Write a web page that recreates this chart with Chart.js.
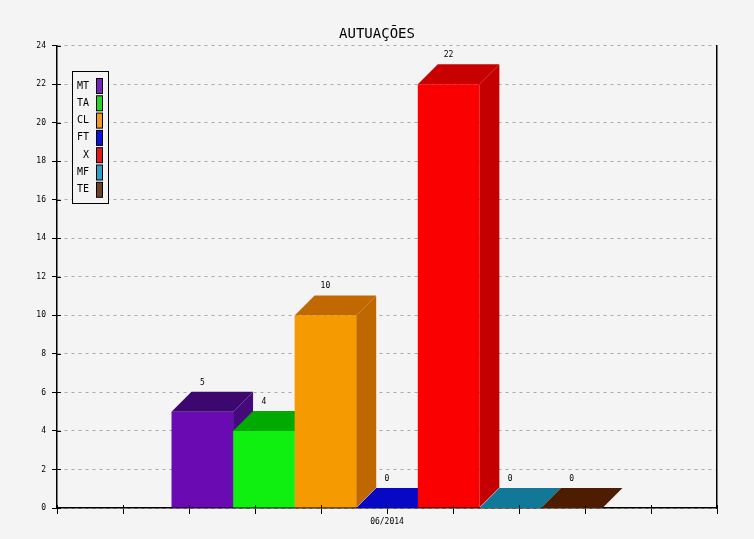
<!DOCTYPE html>
<html><head><meta charset="utf-8">
<script src="https://cdn.jsdelivr.net/npm/chart.js@4.4.1/dist/chart.umd.min.js"></script>
<style>
html,body{margin:0;padding:0;background:#f4f4f4;}
#wrap{width:754px;height:539px;}
canvas{background:#f4f4f4;}
</style></head>
<body><div id="wrap"><canvas id="c" width="754" height="539"></canvas></div>
<script>
// ---- data ----
const chartTitle = 'AUTUAÇÕES';
const periods = ['06/2014'];
const series = ['MT', 'TA', 'CL', 'FT', 'X', 'MF', 'TE'];
const values = [5, 4, 10, 0, 22, 0, 0];
const yMin = 0, yMax = 24, yStep = 2;
const xTickMin = 0, xTickMax = 10;

// ---- styles ----
const frontColors = ['#6a0ab2', '#10f010', '#f59a00', '#0000e0', '#fa0000', '#1590b5', '#6a3010'];
const topColors   = ['#3c0870', '#00aa00', '#c26800', '#0808c4', '#c80000', '#127898', '#4e1c00'];
const sideColors  = ['#440a7c', '#00aa00', '#c06800', '#0808c4', '#c40000', '#127898', '#4e1c00'];
const legendColors = ['#7b1fc0', '#1fd81f', '#f09a20', '#0a10e0', '#e01a1a', '#2aa0c8', '#6e4220'];
const DEPTH = 20;
const MONO = 'DejaVu Sans Mono';

const bar3d = {
  id: 'bar3d',
  beforeDatasetsDraw(chart) {
    const ctx = chart.ctx;
    ctx.save();
    chart.data.datasets.forEach((ds, i) => {
      const el = chart.getDatasetMeta(i).data[0];
      const p = el.getProps(['x', 'y', 'base', 'width'], true);
      const L = p.x - p.width / 2, R = p.x + p.width / 2;
      ctx.fillStyle = topColors[i];
      ctx.beginPath();
      ctx.moveTo(L, p.y); ctx.lineTo(L + DEPTH, p.y - DEPTH);
      ctx.lineTo(R + DEPTH, p.y - DEPTH); ctx.lineTo(R, p.y);
      ctx.closePath(); ctx.fill();
      ctx.fillStyle = sideColors[i];
      ctx.beginPath();
      ctx.moveTo(R, p.y); ctx.lineTo(R + DEPTH, p.y - DEPTH);
      ctx.lineTo(R + DEPTH, p.base - DEPTH); ctx.lineTo(R, p.base);
      ctx.closePath(); ctx.fill();
    });
    ctx.restore();
  },
  afterDatasetsDraw(chart) {
    const ctx = chart.ctx;
    ctx.save();
    ctx.fillStyle = '#000';
    ctx.font = '8px "' + MONO + '"';
    ctx.textAlign = 'center';
    ctx.textBaseline = 'middle';
    chart.data.datasets.forEach((ds, i) => {
      const el = chart.getDatasetMeta(i).data[0];
      const p = el.getProps(['x', 'y'], true);
      ctx.fillText(String(ds.data[0]), p.x, p.y - DEPTH - 9);
    });
    // y tick marks crossing the axis
    const ys = chart.scales.y, xa = chart.chartArea.left;
    ctx.strokeStyle = '#000'; ctx.lineWidth = 1;
    ys.ticks.forEach(t => {
      const py = Math.round(ys.getPixelForValue(t.value)) + 0.5;
      ctx.beginPath(); ctx.moveTo(xa, py); ctx.lineTo(xa + 4, py); ctx.stroke();
    });
    const xs = chart.scales.xt, yb = chart.chartArea.bottom;
    xs.ticks.forEach(t => {
      const px = Math.round(xs.getPixelForValue(t.value)) + 0.5;
      ctx.beginPath(); ctx.moveTo(px, yb); ctx.lineTo(px, yb - 3); ctx.stroke();
    });
    ctx.restore();
  },
  afterDraw(chart) {
    const ctx = chart.ctx;
    ctx.save();
    const bx = 72.5, by = 71.5, bw = 36, bh = 132, step = 17.3;
    ctx.fillStyle = '#f4f4f4';
    ctx.fillRect(bx, by, bw, bh);
    ctx.strokeStyle = '#000';
    ctx.lineWidth = 1;
    ctx.strokeRect(bx, by, bw, bh);
    ctx.font = '10px "' + MONO + '"';
    ctx.textAlign = 'right';
    ctx.textBaseline = 'middle';
    series.forEach((s, i) => {
      const sy = 78 + i * step;
      ctx.fillStyle = legendColors[i];
      ctx.fillRect(96.5, sy + 0.5, 6, 15);
      ctx.strokeRect(96.5, sy + 0.5, 6, 15);
      ctx.fillStyle = '#000';
      ctx.fillText(s, 89, sy + 8);
    });
    ctx.restore();
  }
};

const datasets = series.map((s, i) => ({
  label: s,
  data: [values[i]],
  backgroundColor: frontColors[i],
  borderWidth: 0,
  barPercentage: 1,
  categoryPercentage: 0.653,
  xAxisID: 'x',
  yAxisID: 'y'
}));

new Chart(document.getElementById('c'), {
  type: 'bar',
  data: { labels: periods, datasets },
  options: {
    responsive: false,
    animation: false,
    layout: { padding: 0 },
    plugins: {
      legend: { display: false },
      tooltip: { enabled: false },
      title: {
        display: true,
        text: chartTitle,
        color: '#000',
        font: { family: MONO, size: 14, weight: 'normal' },
        padding: { top: 26, bottom: 3 }
      }
    },
    scales: {
      x: { type: 'category', display: false, offset: true },
      xt: {
        type: 'linear', position: 'bottom', min: xTickMin, max: xTickMax,
        offset: false,
        ticks: {
          stepSize: 1, autoSkip: false, maxRotation: 0, padding: 3,
          color: '#000', font: { family: MONO, size: 8 },
          callback: v => (v === (xTickMin + xTickMax) / 2 ? periods[0] : '')
        },
        grid: { offset: false, drawOnChartArea: false, tickLength: 6, tickColor: '#000', tickWidth: 1 },
        border: { color: '#000', width: 1.5 },
        afterFit: s => { s.height = 31; }
      },
      y: {
        position: 'left', min: yMin, max: yMax,
        ticks: { stepSize: yStep, padding: 6, color: '#000', font: { family: MONO, size: 8 } },
        grid: { color: '#aaaaaa', lineWidth: 1, tickColor: '#000', tickLength: 5, tickBorderDash: [] },
        border: { color: '#000', width: 1.5, dash: [3, 4] },
        afterFit: s => { s.width = 57; }
      },
      y2: {
        position: 'right', min: yMin, max: yMax,
        ticks: { display: false },
        grid: { drawOnChartArea: false, drawTicks: false },
        border: { color: '#000', width: 1.5 },
        afterFit: s => { s.width = 37; }
      }
    }
  },
  plugins: [bar3d]
});
</script>
</body></html>
